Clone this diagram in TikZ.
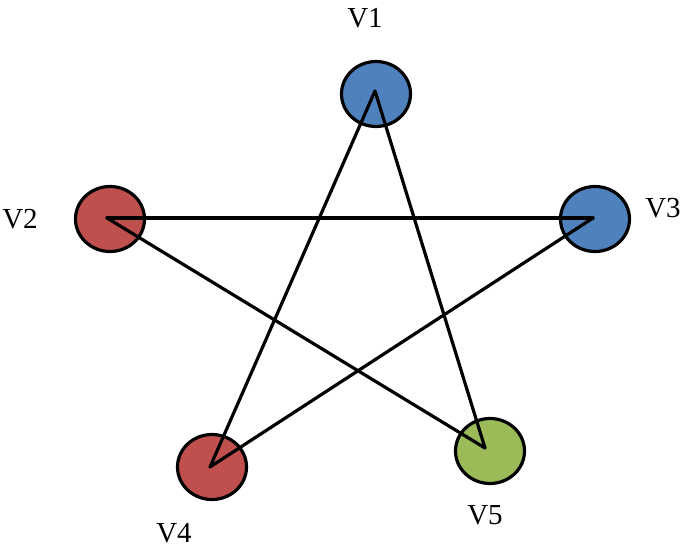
\documentclass[tikz,border=0pt]{standalone}
\usepackage{fontspec}
\setmainfont{Liberation Serif}
\usetikzlibrary{shapes.geometric}
\definecolor{vblue}{HTML}{4F81BD}
\definecolor{vred}{HTML}{C0504D}
\definecolor{vgreen}{HTML}{9BBB59}
\begin{document}
\begin{tikzpicture}[x=1pt,y=-1pt,
  vert/.style={ellipse,draw=black,line width=3.2pt,minimum width=69pt,minimum height=65pt,inner sep=0pt},
  lab/.style={font=\fontsize{29}{29}\selectfont,inner sep=0pt,anchor=center},
  edge/.style={line width=3.2pt,line cap=round}]
\useasboundingbox (0,0) rectangle (685,553);
\node[vert,fill=vblue] (n1) at (376,94) {};
\node[vert,fill=vred] (n2) at (110,219) {};
\node[vert,fill=vblue] (n3) at (595,219) {};
\node[vert,fill=vred] (n4) at (212,467) {};
\node[vert,fill=vgreen] (n5) at (490,451) {};
\coordinate (v1) at (375,91);
\coordinate (v2) at (107,218);
\coordinate (v3) at (593,218);
\coordinate (v4) at (210,467);
\coordinate (v5) at (485,448);
\draw[edge] (v1) -- (v4);
\draw[edge] (v1) -- (v5);
\draw[edge] (v2) -- (v3);
\draw[edge] (v2) -- (v5);
\draw[edge] (v3) -- (v4);
\node[lab] (l1) at (365,18) {V1};
\node[lab] (l2) at (20,219) {V2};
\node[lab] (l3) at (663,208) {V3};
\node[lab] (l4) at (174,533) {V4};
\node[lab] (l5) at (485,515) {V5};
\end{tikzpicture}
\end{document}
